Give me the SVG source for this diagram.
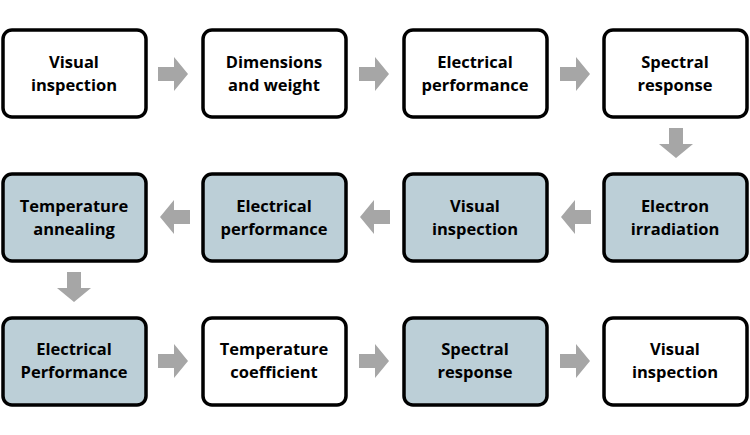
<svg xmlns="http://www.w3.org/2000/svg" width="750" height="435" viewBox="0 0 750 435">
<style>
.b{stroke:#000;stroke-width:3.5;}
.w{fill:#fff}.g{fill:#bccfd7}
text{font-family:"Open Sans","Liberation Sans",sans-serif;font-weight:bold;font-size:16.5px;text-anchor:middle;fill:#000}
.a{fill:#a6a6a6}
</style>
<defs>
<path id="ar" d="M0,-7 H16 V-17 L30,0 L16,17 V7 H0 Z"/>
</defs>
<rect width="750" height="435" fill="#fff"/>
<g id="n1"><rect class="b w" x="3" y="30" width="143" height="87" rx="9"/><text x="74" y="68">Visual</text><text x="74" y="91">inspection</text></g>
<g id="n2"><rect class="b w" x="203" y="30" width="143" height="87" rx="9"/><text x="274" y="68">Dimensions</text><text x="274" y="91">and weight</text></g>
<g id="n3"><rect class="b w" x="404" y="30" width="143" height="87" rx="9"/><text x="475" y="68">Electrical</text><text x="475" y="91">performance</text></g>
<g id="n4"><rect class="b w" x="604" y="30" width="143" height="87" rx="9"/><text x="675" y="68">Spectral</text><text x="675" y="91">response</text></g>
<g id="n5"><rect class="b g" x="604" y="174" width="143" height="87" rx="9"/><text x="675" y="212">Electron</text><text x="675" y="235">irradiation</text></g>
<g id="n6"><rect class="b g" x="404" y="174" width="143" height="87" rx="9"/><text x="475" y="212">Visual</text><text x="475" y="235">inspection</text></g>
<g id="n7"><rect class="b g" x="203" y="174" width="143" height="87" rx="9"/><text x="274" y="212">Electrical</text><text x="274" y="235">performance</text></g>
<g id="n8"><rect class="b g" x="3" y="174" width="143" height="87" rx="9"/><text x="74" y="212">Temperature</text><text x="74" y="235">annealing</text></g>
<g id="n9"><rect class="b g" x="3" y="318" width="143" height="87" rx="9"/><text x="74" y="355">Electrical</text><text x="74" y="378">Performance</text></g>
<g id="n10"><rect class="b w" x="203" y="318" width="143" height="87" rx="9"/><text x="274" y="355">Temperature</text><text x="274" y="378">coefficient</text></g>
<g id="n11"><rect class="b g" x="404" y="318" width="143" height="87" rx="9"/><text x="475" y="355">Spectral</text><text x="475" y="378">response</text></g>
<g id="n12"><rect class="b w" x="604" y="318" width="143" height="87" rx="9"/><text x="675" y="355">Visual</text><text x="675" y="378">inspection</text></g>
<g id="connectors" class="a">
<use href="#ar" transform="translate(158,74)"/>
<use href="#ar" transform="translate(359,74)"/>
<use href="#ar" transform="translate(560,74)"/>
<use href="#ar" transform="translate(676,128) rotate(90)"/>
<use href="#ar" transform="translate(591,217) rotate(180)"/>
<use href="#ar" transform="translate(390,217) rotate(180)"/>
<use href="#ar" transform="translate(190,217) rotate(180)"/>
<use href="#ar" transform="translate(74,272) rotate(90)"/>
<use href="#ar" transform="translate(158,361)"/>
<use href="#ar" transform="translate(359,361)"/>
<use href="#ar" transform="translate(560,361)"/>
</g>
</svg>
